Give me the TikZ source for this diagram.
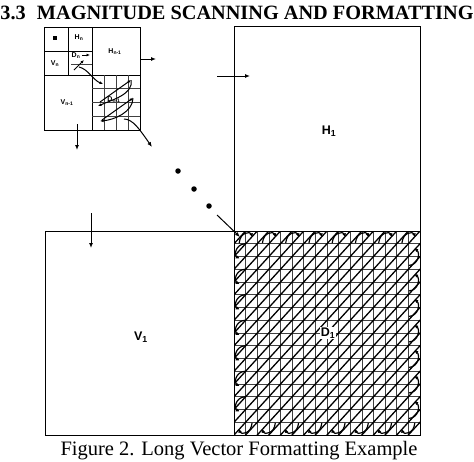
\documentclass[tikz,border=0pt]{standalone}
\usepackage{fontspec}
\setmainfont{Liberation Serif}
\setsansfont{Liberation Sans}
\usetikzlibrary{arrows.meta}
\tikzset{
  box/.style={draw=black, line width=1pt},
  gridline/.style={draw=black!75, line width=0.7pt},
  diag/.style={draw=black, line width=1.3pt},
  garr/.style={draw=black, line width=1.2pt, -{Latex[length=4pt,width=3.6pt]}},
  barr/.style={draw=black, line width=1pt, -{Latex[length=5pt,width=4pt]}},
  sarr/.style={draw=black, line width=1pt, -{Latex[length=3.5pt,width=3pt]}},
  biglabel/.style={font=\sffamily\bfseries\fontsize{12.5}{12.5}\selectfont, inner sep=0pt},
  smalllabel/.style={font=\sffamily\bfseries\fontsize{7}{7}\selectfont, inner sep=0pt},
  dot/.style={circle, fill=black, minimum size=5.5pt, inner sep=0pt}
}
\begin{document}
\begin{tikzpicture}[x=1pt,y=-1pt]
\useasboundingbox (0,0) rectangle (474,461);
% title and caption
\node[font=\bfseries\fontsize{20.3}{20.3}\selectfont, anchor=base, inner sep=0pt] (title) at (237,19.5) {3.3\hspace{0.55em}MAGNITUDE SCANNING AND FORMATTING};
\node[font=\fontsize{20.5}{20.5}\selectfont, anchor=base, inner sep=0pt] (caption) at (239,455) {Figure 2. Long Vector Formatting Example};

% ---------- small recursive diagram ----------
\draw[box] (44,27) rectangle (140,130);
\draw[box] (92,27) -- (92,130);
\draw[box] (44,75) -- (140,75);
\draw[box] (44,51) -- (92,51);
\draw[box] (68,27) -- (68,75);
\draw[gridline] (71,64) -- (92,64);
\foreach \gx in {104,116,128} \draw[gridline] (\gx,75) -- (\gx,130);
\foreach \gy in {88.75,102.5,116.25} \draw[gridline] (92,\gy) -- (140,\gy);
\node[fill=black, minimum size=3.5pt, inner sep=0pt] (acell) at (55,38) {};
\node[smalllabel] (Hn) at (79,38) {H\textsubscript{n}};
\node[smalllabel] (Vn) at (55,64) {V\textsubscript{n}};
\node[smalllabel] (Dn) at (76,56) {D\textsubscript{n}};
\node[smalllabel] (Hn1) at (115,52) {H\textsubscript{n-1}};
\node[smalllabel] (Vn1) at (67,103) {V\textsubscript{n-1}};
\node[smalllabel] (Dn1) at (114,100) {D\textsubscript{n-1}};
\draw[sarr] (82,55) -- (90,55);
\draw[sarr] (74,70) -- (84,60);
\draw[sarr] (79,67) .. controls (88,69) and (93,80) .. (103,84);
\draw[sarr] (100,102) -- (131,80);
\draw[sarr] (131,80) .. controls (134,94) and (112,100) .. (98,106);
\draw[sarr] (102,120) -- (133,98);
\draw[sarr] (133,98) .. controls (133,112) and (114,120) .. (100,121);
\coordinate (smallR) at (140,59);
\coordinate (smallRo) at (156,59);
\coordinate (smallB) at (77,124);
\coordinate (smallBo) at (77,150);
\coordinate (smallD) at (124,119);
\coordinate (smallDo) at (152,147);
\draw[barr] (smallR) -- (smallRo);
\draw[barr] (smallB) -- (smallBo);
\draw[barr] (smallD) .. controls (133,119) and (140,130) .. (smallDo);

% ellipsis dots
\node[dot] (dotA) at (178,171) {};
\node[dot] (dotB) at (194,189) {};
\node[dot] (dotC) at (209,206) {};

% ---------- big level ----------
\draw[box] (234,26) rectangle (420,231);
\draw[box] (45,231) rectangle (234,435);
\node[biglabel] (H1) at (329,131) {H\textsubscript{1}};
\node[biglabel] (V1) at (141,337) {V\textsubscript{1}};
\coordinate (hin) at (217,76);
\coordinate (hin2) at (250,76);
\coordinate (vin) at (91,213);
\coordinate (vin2) at (91,248);
\coordinate (din) at (217,215);
\coordinate (din2) at (240,237);
\draw[barr] (hin) -- (hin2);
\draw[barr] (vin) -- (vin2);
\draw[barr] (din) -- (din2);

% D1 grid
\begin{scope}[shift={(234,231)}, x=11.625pt, y=-12.75pt]
  \foreach \i in {0,...,16} {
    \draw[gridline] (\i,0) -- (\i,16);
    \draw[gridline] (0,\i) -- (16,\i);
  }
  \draw[box] (0,0) rectangle (16,16);
  \begin{scope}
    \clip (0,0) rectangle (16,16);
    \foreach \k in {1,...,31} \draw[diag] (\k-20,20) -- (20,\k-20);
  \end{scope}
  \foreach \m in {0,...,7} {
    \draw[garr] (2*\m+0.45,0.95) .. controls (2*\m+0.5,0.1) and (2*\m+1.4,0.0) .. (2*\m+1.6,0.5);
    \draw[garr] (2*\m+1.55,15.05) .. controls (2*\m+1.5,15.9) and (2*\m+0.6,16.0) .. (2*\m+0.4,15.5);
  }
  \foreach \m in {0,...,6} {
    \draw[garr] (0.95,2*\m+1.0) .. controls (0.1,2*\m+1.05) and (0.0,2*\m+1.95) .. (0.5,2*\m+2.15);
    \draw[garr] (15.05,2*\m+2.7) .. controls (15.9,2*\m+2.65) and (16.0,2*\m+1.7) .. (15.5,2*\m+1.35);
  }
  \node[biglabel, fill=white, inner sep=1pt] (D1) at (8.1,8.0) {D\textsubscript{1}};
\end{scope}
\end{tikzpicture}
\end{document}
